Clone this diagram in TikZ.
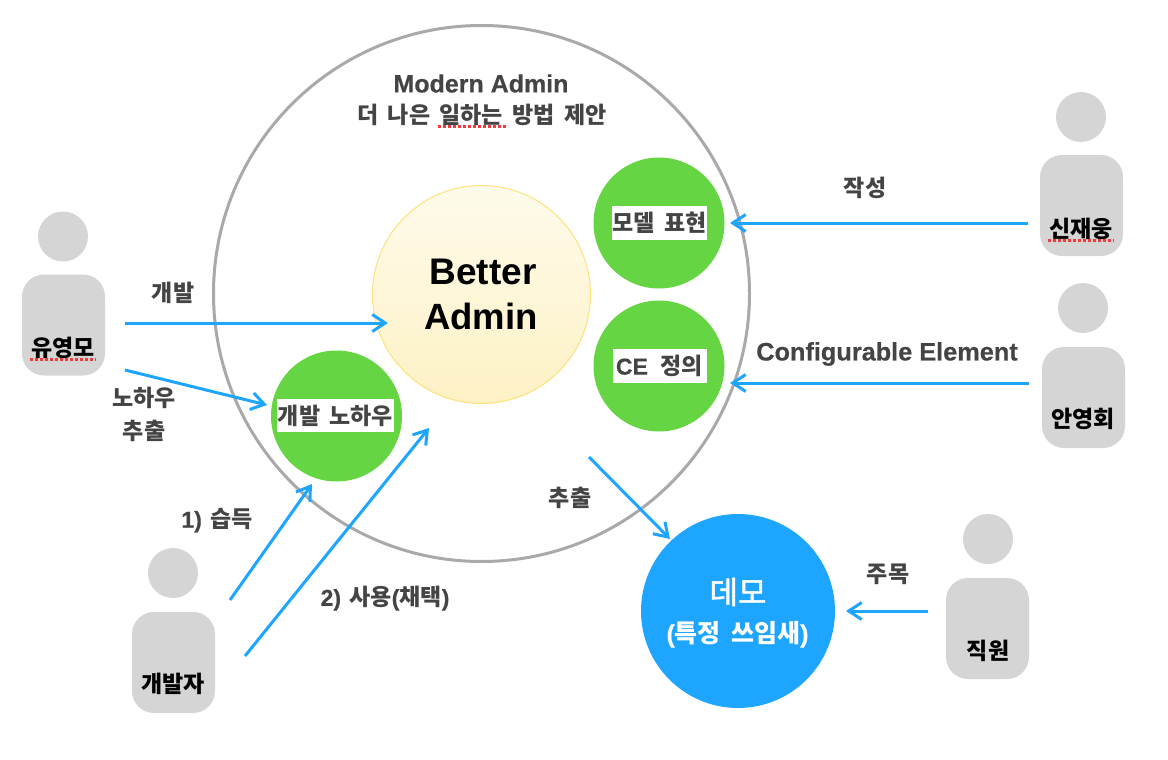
\documentclass[tikz,border=0pt]{standalone}
\usepackage{fontspec}
\setmainfont{Liberation Sans}
\newfontfamily\latf[BoldFeatures={FakeBold=0.5}]{Liberation Sans}
\newfontfamily\krf[WordSpace=1.8]{Noto Sans CJK KR}
\newfontfamily\krd[FakeBold=1.5]{Noto Sans CJK KR}
\usetikzlibrary{arrows.meta}
\definecolor{ringgray}{HTML}{A9A9A9}
\definecolor{persongray}{HTML}{D5D5D5}
\definecolor{leaf}{HTML}{66D544}
\definecolor{sky}{HTML}{1EA5FF}
\definecolor{ink}{HTML}{444444}
\definecolor{squig}{HTML}{F23B3B}
\newcommand{\KR}[1]{{\krf #1}}
\newcommand{\sz}[1]{\fontsize{#1}{#1}\selectfont}
\tikzset{
  x=1pt,y=-1pt,
  ring/.style={circle,draw=ringgray,line width=3pt,fill=white,minimum size=536pt,inner sep=0pt},
  core/.style={circle,draw={rgb,255:red,255;green,226;blue,122},line width=1pt,top color={rgb,255:red,254;green,251;blue,236},bottom color={rgb,255:red,253;green,241;blue,196},minimum size=218pt,inner sep=0pt,align=center,text=black,font=\bfseries\sz{37},text depth=0pt},
  greenball/.style={circle,fill=leaf,minimum size=131pt,inner sep=0pt},
  chip/.style={fill=white,inner sep=0pt,text=ink,font=\bfseries\latf\sz{23}},
  demoball/.style={circle,fill=sky,minimum size=194pt,inner sep=0pt},
  head/.style={circle,fill=persongray,minimum size=50pt,inner sep=0pt},
  torso/.style={rectangle,rounded corners=22pt,fill=persongray,minimum width=83pt,minimum height=101pt,inner sep=0pt},
  who/.style={text=black,font=\bfseries\sz{23},inner sep=0pt},
  lbl/.style={text=ink,font=\bfseries\latf\sz{23},inner sep=0pt,align=center},
  flow/.style={draw=sky,line width=3pt,-{Straight Barb[length=13pt,width=17pt,line width=3pt]}},
  squiggle/.style={draw=squig,line width=2.4pt,dash pattern=on 3pt off 2pt}
}
\begin{document}
\begin{tikzpicture}
\useasboundingbox (0,0) rectangle (1168,760);
\node[ring] (outer) at (481.5,293.5) {};
\node[lbl,font=\bfseries\latf\sz{25}] (title1) at (481,83.5) {Modern Admin};
\node[lbl] (title2) at (482,114.5) {\KR{더 나은 일하는 방법 제안}};
\node[core] (better) at (481.5,294.5) {};
\node[text=black,font=\bfseries\sz{37},inner sep=0pt] (better1) at (483,271.5) {Better};
\node[text=black,font=\bfseries\sz{36.5},inner sep=0pt] (better2) at (481,316.5) {Admin};

\node[greenball] (model) at (659,223) {};
\node[greenball] (ce) at (659,366) {};
\node[greenball] (howto) at (336.5,416) {};
\node[chip,minimum width=95pt,minimum height=34pt] (modelT) at (659.5,223) {\KR{모델 표현}};
\node[chip,minimum width=94pt,minimum height=34pt] (ceT) at (659.5,366) {CE\ \ \KR{정의}};
\node[chip,minimum width=117pt,minimum height=33pt] (howtoT) at (335.5,415.5) {\KR{개발 노하우}};

\node[demoball] (demo) at (738,611) {};
\node[text=white,font=\sz{31},inner sep=0pt] (demo1) at (738,592) {{\krd 데모}};
\node[text=white,font=\bfseries\latf\sz{25},inner sep=0pt] (demo2) at (737.5,634.5) {(\KR{특정 쓰임새})};

\node[head] (yuH) at (63,236.5) {};
\node[torso] (yu) at (63.5,325) {};
\node[who] (yuT) at (63,347.5) {\KR{유영모}};
\node[head] (shinH) at (1081,117) {};
\node[torso] (shin) at (1081.5,205.5) {};
\node[who] (shinT) at (1081,228.5) {\KR{신재웅}};
\node[head] (ahnH) at (1083,308) {};
\node[torso] (ahn) at (1083.5,397.5) {};
\node[who] (ahnT) at (1083,418.5) {\KR{안영회}};
\node[head] (devH) at (173,573) {};
\node[torso] (dev) at (173.5,662.5) {};
\node[who] (devT) at (173,683.5) {\KR{개발자}};
\node[head] (staffH) at (988,539) {};
\node[torso] (staff) at (987.5,628.5) {};
\node[who] (staffT) at (988,650.5) {\KR{직원}};

\draw[squiggle] ([shift={(-33,12)}]yuT.center) -- ([shift={(33,12)}]yuT.center);
\draw[squiggle] ([shift={(-33,12)}]shinT.center) -- ([shift={(33,12)}]shinT.center);
\draw[squiggle] ([shift={(-44,12)}]title2.center) -- ([shift={(26,12)}]title2.center);

\draw[flow] ([shift={(61.5,-2)}]yu.center) -- ([shift={(-93.5,28.5)}]better.center);
\draw[flow] ([shift={(61.5,45)}]yu.center) -- ([shift={(-69.5,-11)}]howto.center);
\draw[flow] ([shift={(56.5,-62.5)}]dev.center) -- ([shift={(-24.5,68)}]howto.center);
\draw[flow] ([shift={(71.5,-6.5)}]dev.center) -- ([shift={(-52.5,133.5)}]better.center);
\draw[flow] ([shift={(107.5,162.5)}]better.center) -- ([shift={(-68,-72)}]demo.center);
\draw[flow] ([shift={(-53.5,17.5)}]shin.center) -- ([shift={(71,0)}]model.center);
\draw[flow] ([shift={(-54.5,-14.5)}]ahn.center) -- ([shift={(71,17)}]ce.center);
\draw[flow] ([shift={(-59.5,-17.5)}]staff.center) -- ([shift={(108,0)}]demo.center);

\node[lbl] (lDev) at (173,292.5) {\KR{개발}};
\node[lbl] (lHow1) at (144,397.5) {\KR{노하우}};
\node[lbl] (lHow2) at (144,430.5) {\KR{추출}};
\node[lbl] (lLearn) at (217,520.5) {1)\hspace{2pt} \KR{습득}};
\node[lbl] (lUse) at (385,598.5) {2)\hspace{2pt} \KR{사용}(\KR{채택})};
\node[lbl] (lExt) at (570,497.5) {\KR{추출}};
\node[lbl] (lWrite) at (865,187.5) {\KR{작성}};
\node[lbl,font=\bfseries\latf\sz{25.3}] (lCE) at (887,354) {Configurable Element};
\node[lbl] (lNote) at (888,574.5) {\KR{주목}};
\end{tikzpicture}
\end{document}
